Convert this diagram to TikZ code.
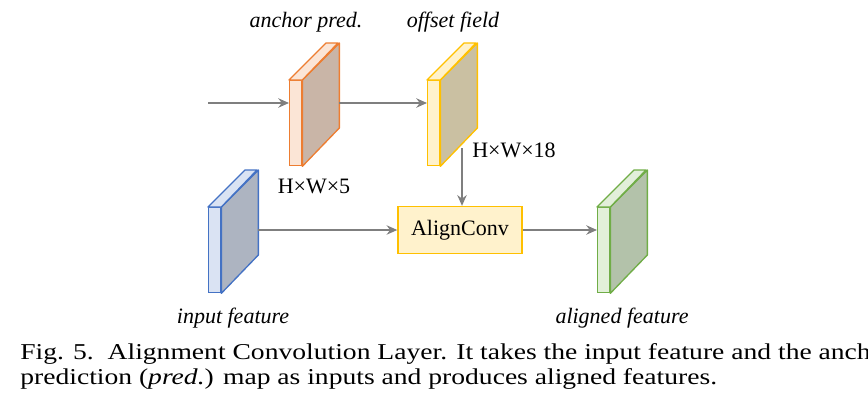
\documentclass[tikz,border=0pt]{standalone}
\usepackage{fontspec}
\setmainfont{Liberation Serif}
\usetikzlibrary{arrows.meta}
\definecolor{oE}{HTML}{ED7D31}\definecolor{oF}{HTML}{FBE5D6}\definecolor{oS}{HTML}{C9B5A7}
\definecolor{yE}{HTML}{FFC000}\definecolor{yF}{HTML}{FFF2CC}\definecolor{yS}{HTML}{CAC0A2}
\definecolor{bE}{HTML}{4472C4}\definecolor{bF}{HTML}{DAE3F3}\definecolor{bS}{HTML}{ADB4C1}
\definecolor{gE}{HTML}{70AD47}\definecolor{gF}{HTML}{E2F0D9}\definecolor{gS}{HTML}{B3C2AA}
\definecolor{aG}{HTML}{7F7F7F}
\newcommand\fmap[5]{% name, x, y(top of front), edge, front
  \node[draw=#4,fill=#5,line width=1pt,minimum width=12*0.75pt,minimum height=85*0.75pt,inner sep=0,anchor=north west] (#1) at (#2,#3) {};
}
\newcommand\fmapfaces[3]{% name, edge, side colour
  \draw[draw=#2,fill=#3,line width=1pt,line join=round] (#1.north east) -- ++(37,-37) -- ++(0,85) -- (#1.south east) -- cycle;
  \draw[draw=#2,fill=#2!20,line width=1pt,line join=round] (#1.north west) -- ++(37,-37) -- ++(12,0) -- (#1.north east) -- cycle;
  \coordinate (#1-back) at ([shift={(37,-18.5)}]#1.east);
}
\begin{document}
\begin{tikzpicture}[x=0.75pt,y=-0.75pt,
  arr/.style={draw=aG,line width=1.6pt,-{Stealth[length=8pt,width=7pt]}},
  lab/.style={font=\fontsize{16.5}{18}\selectfont},
  it/.style={font=\fontsize{16.5}{18}\selectfont\itshape}]
\useasboundingbox (0,0) rectangle (868,407);
\fmap{o}{289}{80}{oE}{oF}\fmapfaces{o}{oE}{oS}
\fmap{y}{427}{80}{yE}{yF}\fmapfaces{y}{yE}{yS}
\fmap{b}{208}{207}{bE}{bF}\fmapfaces{b}{bE}{bS}
\fmap{g}{597}{207}{gE}{gF}\fmapfaces{g}{gE}{gS}
\node[draw=yE,fill=yF,line width=1pt,minimum width=124*0.75pt,minimum height=47*0.75pt,lab] (ac) at (460,230) {AlignConv};
\coordinate (in) at (208,103);
\draw[arr] (in) -- (o.west|-in);
\draw[arr] (o-back|-in) -- (y.west|-in);
\draw[arr] (462,148) -- (ac.north-|462,0);
\draw[arr] (b-back|-ac) -- (ac.west);
\draw[arr] (ac.east) -- (g.west|-ac);
\node[it] (t1) at (306,22) {anchor pred.};
\node[it] (t2) at (453,22) {offset field};
\node[lab] (t3) at (314,186) {H×W×5};
\node[lab] (t4) at (514,150) {H×W×18};
\node[it] (t5) at (233,318) {input feature};
\node[it] (t6) at (622,318) {aligned feature};
\node[anchor=north west,inner sep=0,align=left,xscale=1.217,transform shape,font=\fontsize{17}{18.75}\selectfont] (cap) at (20,343)
 {Fig. 5.\ \ Alignment Convolution Layer. It takes the input feature and the anchor\\
 prediction (\textit{pred.}) map as inputs and produces aligned features.};
\end{tikzpicture}
\end{document}
